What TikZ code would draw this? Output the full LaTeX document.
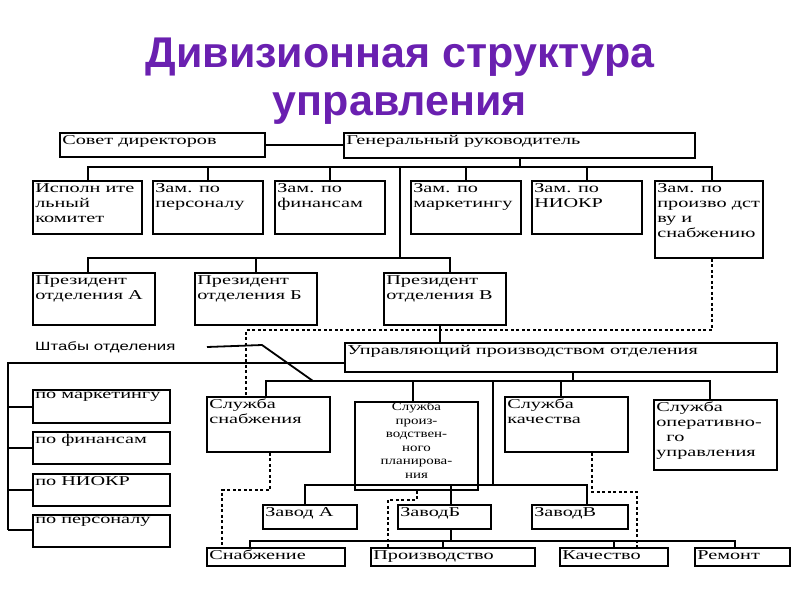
\documentclass[tikz,border=0pt]{standalone}
\usepackage{fontspec}
\setmainfont{Liberation Serif}[FakeStretch=1.5]
\newfontfamily\ttl{Liberation Sans}
\newfontfamily\shtf{Liberation Sans}[FakeStretch=1.4]
\newfontfamily\plf{Liberation Serif}[FakeStretch=1.3]
\usetikzlibrary{fit}
\begin{document}
\begin{tikzpicture}[x=1pt,y=-1pt,
 box/.style={draw,line width=1.8pt,inner sep=0pt},
 ln/.style={line width=1.8pt},
 dl/.style={line width=1.2pt,dash pattern=on 3pt off 2.5pt},
 tx/.style={anchor=north west,inner sep=3pt,align=left,font=\fontsize{13.5}{15}\selectfont}]
\useasboundingbox (0,0) rectangle (800,600);
\definecolor{ttlc}{RGB}{106,32,176}
\node[text=ttlc,font=\ttl\bfseries\fontsize{43}{48}\selectfont,align=center] (title) at (400,81) {Дивизионная структура\\управления};
\newcommand{\bx}[6]{\node[box,fit={(#2,#3)(#4,#5)},label={[tx]north west:#6}] (#1) {};}
\bx{sov}{60}{133}{265}{157}{Совет директоров}
\bx{gen}{344}{133}{695}{158}{Генеральный руководитель}
\bx{isp}{33}{181}{142}{234}{Исполн ите\\льный\\комитет}
\bx{zp}{153}{181}{263}{234}{Зам. по\\персоналу}
\bx{zf}{275}{181}{385}{234}{Зам. по\\финансам}
\bx{zm}{411}{181}{521}{234}{Зам. по\\маркетингу}
\bx{zn}{532}{181}{642}{234}{Зам. по\\НИОКР}
\bx{zpr}{655}{181}{763}{258}{Зам. по\\произво дст\\ву и\\снабжению}
\bx{pa}{33}{273}{155}{325}{Президент\\отделения А}
\bx{pb}{195}{273}{317}{325}{Президент\\отделения Б}
\bx{pv}{384}{273}{506}{325}{Президент\\отделения В}
\bx{up}{345}{343}{777}{372}{Управляющий производством отделения}
\node[anchor=west,inner sep=0pt,font=\shtf\fontsize{12}{13}\selectfont] (sht) at (35,347) {Штабы отделения};
\bx{sm}{33}{390}{170}{423}{по маркетингу}
\bx{sf}{33}{432}{170}{464}{по финансам}
\bx{sn}{33}{474}{170}{506}{по НИОКР}
\bx{spe}{33}{515}{170}{547}{по персоналу}
\bx{ssn}{207}{397}{330}{452}{Служба\\снабжения}
\node[box,fit={(355,402)(478,490)}] (spl) {};
\node[anchor=north,inner sep=1pt,align=center,font=\plf\fontsize{11.5}{13.6}\selectfont] at (spl.north) {Служба\\произ-\\водствен-\\ного\\планирова-\\ния};
\bx{sk}{505}{397}{628}{452}{Служба\\качества}
\bx{so}{654}{400}{777}{470}{Служба\\оперативно-\\\ \ го\\управления}
\bx{za}{263}{505}{357}{529}{Завод А}
\bx{zb}{398}{505}{491}{529}{ЗаводБ}
\bx{zv}{532}{505}{628}{529}{ЗаводВ}
\bx{bsn}{207}{548}{345}{566}{Снабжение}
\bx{bpr}{371}{548}{535}{566}{Производство}
\bx{bk}{560}{548}{668}{566}{Качество}
\bx{br}{695}{548}{790}{566}{Ремонт}
\coordinate (b1) at (520,167);
\coordinate (b2) at (400,258);
\coordinate (b3) at (573,381);
\coordinate (b4) at (493,485);
\coordinate (b5) at (451,541);
% lines
\draw[ln] (sov.east|-0,145) -- (gen.west|-0,145);
\draw[ln] (gen.south-|b1) -- (b1);
\draw[ln] (isp.north-|88,0) |- (b1) -| (zpr.north-|712,0);
\foreach \n/\x in {zp/208,zf/330,zm/466,zn/587} \draw[ln] (\x,167) -- (\n.north-|\x,0);
\draw[ln] (b2) -- (400,167);
\draw[ln] (pa.north-|88,0) |- (b2) -| (pv.north-|450,0);
\draw[ln] (pb.north-|256,0) -- (256,258);
\draw[ln] (pv.south-|440,0) -- (up.north-|440,0);
\draw[ln] (up.south-|b3) -- (b3);
\draw[ln] (ssn.north-|266,0) |- (b3) -| (so.north-|710,0);
\draw[ln] (spl.north-|413,0) -- (413,381);
\draw[ln] (sk.north-|561,0) -- (561,381);
\draw[ln] (sht.east-|207,0) -- (262,345) -- (313,381);
\draw[ln] (up.west|-0,363) -- (8,363) -- (8,530);
\foreach \n/\y in {sm/407,sf/448,sn/490,spe/530} \draw[ln] (8,\y) -- (\n.west|-0,\y);
\draw[ln] (b4) -- (493,381);
\draw[ln] (za.north-|305,0) |- (b4) -| (zv.north-|587,0);
\draw[ln] (zb.north-|451,0) -- (451,485);
\draw[ln] (zb.south-|b5) -- (b5);
\draw[ln] (bsn.north-|250,0) |- (b5) -| (br.north-|735,0);
\draw[ln] (bpr.north-|443,0) -- (443,541);
\draw[ln] (bk.north-|614,0) -- (614,541);
% dashed
\draw[dl] (zpr.south-|712,0) -- (712,330) -- (246,330) -- (ssn.north-|246,0);
\draw[dl] (ssn.south-|270,0) -- (270,490) -- (222,490) -- (bsn.north-|222,0);
\draw[dl] (spl.south-|417,0) -- (417,500) -- (388,500) -- (bpr.north-|388,0);
\draw[dl] (sk.south-|592,0) -- (592,492) -- (637,492) -- (bk.north-|637,0);
\end{tikzpicture}
\end{document}
